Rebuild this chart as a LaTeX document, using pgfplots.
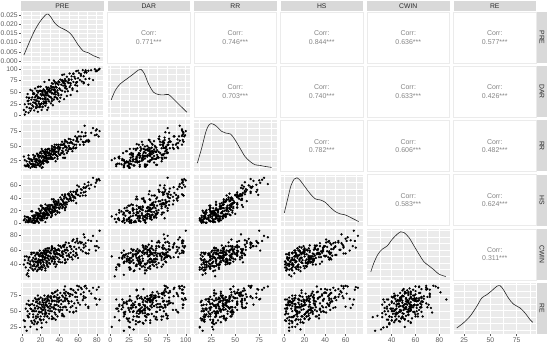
\documentclass[border=0pt]{standalone}
\usepackage{pgfplots}
\usepackage{pgfplotstable}
\pgfplotsset{compat=1.18}
\usepackage{fontspec}
\setmainfont{Liberation Sans}
\definecolor{panelbg}{HTML}{EBEBEB}
\definecolor{stripbg}{HTML}{D9D9D9}
\definecolor{ticktxt}{HTML}{5A5A5A}
\definecolor{striptxt}{HTML}{2A2A2A}
\definecolor{corrtxt}{HTML}{858585}

\pgfplotstableread{
PRE DAR RR HS CWIN RE
3 24 17 7 46 35
4 8 16 2 36 54
5 39 24 10 51 61
5 18 16 5 26 20
6 31 17 2 42 50
7 6 29 7 24 41
7 25 15 9 46 66
8 38 23 4 41 46
8 16 28 3 50 59
9 25 13 8 36 26
9 10 20 7 40 54
10 34 27 2 54 35
11 39 15 12 34 50
11 22 24 4 46 61
12 48 18 8 32 41
12 28 35 5 49 66
12 19 20 1 44 45
13 34 28 13 38 30
13 46 15 5 56 59
13 11 31 8 40 50
14 39 18 8 47 34
14 27 24 3 34 55
14 58 33 11 52 70
15 18 17 17 43 42
15 33 23 4 54 64
15 42 28 13 37 50
15 25 14 3 48 39
16 53 37 8 56 58
16 31 27 16 31 22
16 22 22 6 44 65
17 40 33 3 39 54
17 49 18 12 54 45
17 18 26 8 42 62
17 37 35 16 56 33
18 26 20 1 36 68
18 62 30 15 47 49
18 30 24 12 52 56
19 53 33 7 34 64
19 23 16 20 51 38
19 38 38 11 45 61
19 18 26 15 59 48
20 46 33 5 41 71
20 36 24 18 46 42
21 52 37 11 52 53
21 12 20 21 38 60
21 43 30 8 56 32
22 50 42 15 45 67
22 19 24 24 50 46
22 46 33 11 36 57
22 36 22 8 55 69
23 56 40 14 40 63
23 30 27 24 51 37
23 44 32 11 59 60
23 25 20 17 43 52
24 72 37 8 49 74
24 35 30 22 38 42
24 42 25 16 57 56
24 54 40 10 47 67
25 30 32 22 54 49
25 50 24 20 35 45
25 38 35 24 50 52
25 52 44 14 59 69
26 26 26 18 42 33
26 49 34 8 56 64
26 43 30 21 45 47
26 61 40 15 53 60
27 35 24 28 40 72
27 47 38 13 62 42
27 12 29 17 49 58
27 56 41 24 44 66
28 60 28 15 59 74
28 43 34 27 48 51
28 34 45 13 52 56
28 52 23 22 37 68
29 76 39 20 57 39
29 30 37 29 46 62
29 55 30 13 62 46
29 41 45 22 42 72
30 50 34 26 51 54
30 58 28 18 56 58
30 40 42 23 41 50
31 63 32 17 55 61
31 53 37 29 48 70
32 31 45 22 60 42
32 56 30 29 45 67
32 49 50 15 64 56
33 68 35 27 51 77
33 22 41 25 48 39
33 61 28 20 62 66
34 46 44 35 41 54
34 55 36 18 56 72
35 40 48 26 44 48
35 72 30 30 62 60
35 54 41 22 47 66
36 45 40 35 54 53
36 62 35 28 51 80
36 51 47 20 60 45
37 70 34 31 40 65
37 38 52 25 59 60
37 60 40 34 56 71
38 68 46 31 49 42
38 49 32 19 60 68
38 54 46 29 54 75
39 73 41 37 44 58
39 43 52 25 66 64
39 66 38 35 54 52
40 58 44 29 47 71
40 30 35 23 59 49
41 77 52 41 52 78
41 55 47 31 65 56
42 44 38 38 63 67
42 66 52 30 52 61
43 74 42 28 43 46
43 53 57 37 58 74
44 64 40 35 65 72
44 73 46 26 50 56
45 35 53 42 58 83
45 70 36 32 66 42
46 59 50 44 47 70
46 78 57 29 60 66
47 74 49 33 56 80
47 62 43 41 70 56
48 42 57 39 52 69
48 83 47 30 63 52
49 71 55 46 47 78
49 52 41 38 59 66
50 78 62 35 69 62
50 70 50 45 54 77
51 61 47 39 65 49
51 90 55 43 50 73
52 65 61 50 64 56
53 84 45 36 50 84
53 77 56 46 61 65
54 55 54 44 72 75
55 89 48 36 58 49
55 72 60 50 53 82
56 83 52 42 64 62
57 65 66 50 70 72
57 79 46 40 51 79
58 70 58 48 61 55
58 95 52 46 56 78
59 64 62 53 72 72
60 80 57 45 49 63
61 91 66 58 63 88
62 76 52 43 71 60
63 89 61 54 60 76
64 73 73 53 70 84
65 97 57 44 58 67
66 84 66 57 67 73
67 92 84 62 77 88
68 78 72 50 65 71
69 92 59 58 55 85
71 96 60 65 73 55
72 79 58 55 60 81
74 97 72 61 72 77
76 76 80 72 79 86
78 99 68 58 65 70
80 95 78 69 72 83
82 98 66 70 63 87
83 100 75 68 86 68
7 32 17 2 32 60
3 2 26 11 51 26
14 28 19 1 44 54
6 46 19 10 28 43
15 16 26 3 48 68
2 12 32 5 40 36
12 46 17 11 56 51
21 26 13 5 33 25
9 55 27 6 44 60
19 20 22 12 53 49
7 38 34 5 49 41
17 8 19 14 33 68
13 47 15 1 40 36
24 27 30 11 56 55
11 53 26 19 38 32
22 18 14 5 53 64
17 37 35 11 45 74
25 46 29 2 32 47
10 15 19 19 56 53
20 53 40 11 43 36
26 30 32 20 59 59
17 61 18 9 40 41
31 26 36 16 49 73
16 44 27 5 38 31
25 21 41 20 54 63
22 52 24 25 47 52
31 39 30 10 59 70
20 62 18 16 36 37
28 17 38 14 52 56
18 52 34 23 43 69
27 58 22 9 38 42
35 39 37 19 58 59
21 26 45 28 46 49
32 69 28 17 63 78
25 35 32 13 49 47
35 49 44 24 42 73
20 24 23 28 55 55
32 60 40 12 44 38
29 53 37 24 62 66
38 35 28 17 49 82
27 49 44 25 57 69
36 68 24 14 37 37
25 28 38 30 61 59
34 60 48 24 48 72
44 74 30 34 54 44
32 47 43 19 65 65
41 38 35 26 43 52
35 56 52 32 54 79
46 68 30 24 46 57
32 36 46 38 61 50
43 76 38 24 52 43
39 46 49 33 61 70
46 64 30 21 42 77
34 34 43 38 58 56
44 70 52 30 66 65
34 75 38 34 50 39
47 58 58 26 43 74
52 44 45 40 65 84
43 87 52 45 56 52
48 57 38 33 60 69
46 51 60 46 67 69
58 71 47 32 55 50
45 88 54 39 64 78
54 58 41 44 47 58
46 74 48 32 60 88
59 52 60 51 53 67
55 90 46 41 74 48
52 69 56 37 56 76
63 85 66 48 69 86
50 75 44 47 52 65
68 97 57 44 56 60
59 72 64 60 75 89
66 69 52 49 63 70
60 96 74 45 69 83
71 66 57 60 55 57
68 95 67 56 69 89
79 95 76 64 59 69
66 71 56 56 81 79
80 96 69 67 65 60
40 71 47 17 54 66
}\data

\pgfplotsset{
  panel/.style 2 args={at={({(21+86.5*#1)*1bp},{-(12+54.2*#2)*1bp})}, anchor=north west},
  base/.style={scale only axis, width=82.5bp, height=51bp,
    axis background/.style={fill=panelbg},
    axis line style={draw=none},
    grid=both,
    major grid style={white, line width=0.6bp},
    minor grid style={white, line width=0.3bp},
    tick align=outside, major tick length=2.2bp, minor tick length=0pt,
    xtick pos=bottom, ytick pos=left,
    tick style={draw=none},
    ticklabel style={font=\fontsize{6.8}{7}\selectfont, text=ticktxt, inner sep=1bp},
    /pgf/number format/assume math mode=true,
  },
  noxl/.style={xticklabels={}},
  noyl/.style={yticklabels={}},
  showx/.style={xtick style={draw=ticktxt, line width=0.5bp}},
  showy/.style={ytick style={draw=ticktxt, line width=0.5bp}},
  xPRE/.style={xmin=-1.07, xmax=87.2, xtick={0,20,40,60,80}, minor xtick={10,30,50,70}},
  xDAR/.style={xmin=-3.6, xmax=105.6, xtick={0,25,50,75,100}, minor xtick={12.5,37.5,62.5,87.5}},
  xRR/.style={xmin=7, xmax=93, xtick={25,50,75}, minor xtick={12.5,37.5,62.5,87.5}},
  xHS/.style={xmin=-3.5, xmax=77, xtick={0,20,40,60}, minor xtick={10,30,50,70}},
  xCWIN/.style={xmin=19.2, xmax=88.6, xtick={40,60,80}, minor xtick={30,50,70}},
  xRE/.style={xmin=15, xmax=93.3, xtick={25,50,75}, minor xtick={37.5,62.5,87.5}},
  yDAR/.style={ymin=-3.6, ymax=105.6, ytick={0,25,50,75,100}, minor ytick={12.5,37.5,62.5,87.5}},
  yRR/.style={ymin=7, ymax=93, ytick={25,50,75}, minor ytick={12.5,37.5,62.5,87.5}},
  yHS/.style={ymin=-3.5, ymax=77, ytick={0,20,40,60}, minor ytick={10,30,50,70}},
  yCWIN/.style={ymin=19.2, ymax=88.6, ytick={40,60,80}, minor ytick={30,50,70}},
  yRE/.style={ymin=15, ymax=93.3, ytick={25,50,75}, minor ytick={37.5,62.5,87.5}},
  ydens/.style={ymin=0, ymax=51, ytick={4,17,30,43}, minor ytick={10.5,23.5,36.5,49.5}},
  yPREd/.style={ymin=-0.00109, ymax=0.02663, ytick={0,0.005,0.01,0.015,0.02,0.025},
    minor ytick={0.0025,0.0075,0.0125,0.0175,0.0225}, scaled y ticks=false,
    yticklabel style={/pgf/number format/.cd, fixed, fixed zerofill, precision=3}},
  pts/.style={only marks, mark=*, mark size=0.95bp, black},
  dens/.style={draw=black!85, line width=0.6bp, no marks, smooth, tension=0.5},
}

\newcommand{\scat}[5]{%
  \begin{axis}[base, panel={#1}{#2}, x#3, y#4, #5]
    \addplot[pts] table[x=#3, y=#4] {\data};
  \end{axis}}

\newcommand{\corr}[3]{%
  \pgfmathsetmacro{\xl}{21+86.5*#1}%
  \pgfmathsetmacro{\yt}{-(12+54.2*#2)}%
  \draw[panelbg, fill=white, line width=0.5bp] (\xl,\yt) rectangle ++(82.5,-51);
  \node[text=corrtxt, font=\fontsize{7}{8.4}\selectfont, align=center] at (\xl+41.25,\yt-25.5) {Corr:\\#3***};}

\begin{document}
\begin{tikzpicture}[x=1bp, y=1bp]
\path[use as bounding box] (0,0) rectangle (550,-344);

% strips
\foreach \n [count=\i from 0] in {PRE,DAR,RR,HS,CWIN,RE}{
  \fill[stripbg] ({21+86.5*\i},-1) rectangle ++(82.5,-10);
  \node[font=\fontsize{6.8}{7}\selectfont, text=striptxt] at ({21+86.5*\i+41.25},-6) {\n};
  \fill[stripbg] (537,{-(12+54.2*\i)}) rectangle ++(10,-51);
  \node[font=\fontsize{6.8}{7}\selectfont, text=striptxt, rotate=-90] at (542,{-(12+54.2*\i)-25.5}) {\n};
}

% correlation panels
\corr{1}{0}{0.771}
\corr{2}{0}{0.746}
\corr{3}{0}{0.844}
\corr{4}{0}{0.636}
\corr{5}{0}{0.577}
\corr{2}{1}{0.703}
\corr{3}{1}{0.740}
\corr{4}{1}{0.633}
\corr{5}{1}{0.426}
\corr{3}{2}{0.782}
\corr{4}{2}{0.606}
\corr{5}{2}{0.482}
\corr{4}{3}{0.583}
\corr{5}{3}{0.624}
\corr{5}{4}{0.311}

% diagonal densities
\begin{axis}[base, panel={0}{0}, xPRE, yPREd, noxl, showy]
\addplot[dens] coordinates {(2.1,0.0033) (12.1,0.0151) (19.3,0.0214) (26.4,0.0255) (29.9,0.0245) (35.3,0.0205) (40.6,0.0183) (47.8,0.0165) (53.2,0.0141) (60.2,0.0087) (65.6,0.0054) (70.9,0.0045) (76.3,0.0029) (83.4,0.0015)};
\end{axis}
\begin{axis}[base, panel={1}{1}, xDAR, ydens, noxl, noyl]
\addplot[dens] coordinates {(1.3,17.3) (6.6,26.7) (13.2,33.3) (22,38.3) (30.8,43.3) (37.5,47.3) (41,47.7) (45.4,43.3) (50.7,33.3) (57.3,25) (63.9,22.7) (70.5,22.3) (77.1,22.7) (83.7,18.3) (90.3,13.3) (97,8.3) (101.4,5)};
\end{axis}
\begin{axis}[base, panel={2}{2}, xRR, ydens, noxl, noyl]
\addplot[dens] coordinates {(10.5,8.3) (15,23.3) (19.5,40) (23,47) (26.5,47.5) (30.6,45) (35.9,40) (40.3,38.3) (45.2,37.3) (49.7,31.7) (54.9,23.3) (60.1,15) (65.3,10) (70.5,6.7) (75.8,6) (81,5) (87.9,4)};
\end{axis}
\begin{axis}[base, panel={3}{3}, xHS, ydens, noxl, noyl]
\addplot[dens] coordinates {(0.2,12.7) (3.5,26.7) (6.7,40) (10,46.7) (12.6,47.8) (15.8,45) (20.7,38.3) (25.6,31.7) (30.5,26.7) (35.3,25.7) (40.2,23.3) (45.1,18.3) (50,14) (54.8,11.7) (59.7,10.7) (64.6,8.3) (72.8,4)};
\end{axis}
\begin{axis}[base, panel={4}{4}, xCWIN, ydens, noxl, noyl]
\addplot[dens] coordinates {(22.4,8) (25.1,17.3) (28.5,25.7) (32.1,30.7) (36.3,34) (40.5,40.7) (44.7,45.7) (47.6,48) (50.3,47.3) (54.5,42.3) (58.7,34) (62.9,25.7) (67.1,18) (71.3,14) (75.5,10) (79.7,5.7) (85.4,3.3)};
\end{axis}
\begin{axis}[base, panel={5}{5}, xRE, ydens, showx, noyl]
\addplot[dens] coordinates {(18.1,6) (24.3,11) (30.7,17.7) (37.1,27.7) (41.8,36) (46.6,39.3) (51.3,43.3) (56.1,47.7) (59.2,48.3) (62.4,44.3) (67.1,36) (71.8,30) (78.2,26) (82.9,21) (87.7,14.3) (90.2,11.7)};
\end{axis}

% scatter panels
\scat{0}{1}{PRE}{DAR}{noxl, showy}
\scat{0}{2}{PRE}{RR}{noxl, showy}
\scat{1}{2}{DAR}{RR}{noxl, noyl}
\scat{0}{3}{PRE}{HS}{noxl, showy}
\scat{1}{3}{DAR}{HS}{noxl, noyl}
\scat{2}{3}{RR}{HS}{noxl, noyl}
\scat{0}{4}{PRE}{CWIN}{noxl, showy}
\scat{1}{4}{DAR}{CWIN}{noxl, noyl}
\scat{2}{4}{RR}{CWIN}{noxl, noyl}
\scat{3}{4}{HS}{CWIN}{noxl, noyl}
\scat{0}{5}{PRE}{RE}{showx, showy}
\scat{1}{5}{DAR}{RE}{showx, noyl}
\scat{2}{5}{RR}{RE}{showx, noyl}
\scat{3}{5}{HS}{RE}{showx, noyl}
\scat{4}{5}{CWIN}{RE}{showx, noyl}
\end{tikzpicture}
\end{document}
